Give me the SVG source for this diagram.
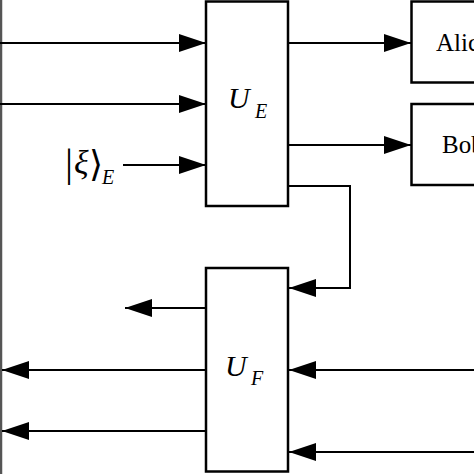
<svg xmlns="http://www.w3.org/2000/svg" width="474" height="474" viewBox="0 0 474 474">
<style>
.box{fill:#fff;stroke:#000;stroke-width:2.5}
.ln{fill:none;stroke:#000;stroke-width:2}
.t{font-family:"Liberation Serif","Times New Roman",serif;fill:#000}
.i{font-style:italic}
.big{font-size:30px}
.sub{font-size:20px}
</style>
<defs>
<marker id="ah" markerUnits="userSpaceOnUse" markerWidth="28" markerHeight="20" refX="27" refY="9" orient="auto">
<path d="M0,0 L27,9 L0,18 Z" fill="#000"/>
</marker>
</defs>
<rect width="474" height="474" fill="#fff"/>
<line x1="1" y1="0" x2="1" y2="474" stroke="#555" stroke-width="2.5"/>
<g id="connectors">
<line class="ln" x1="0" y1="43" x2="206" y2="43" marker-end="url(#ah)"/>
<line class="ln" x1="0" y1="104" x2="206" y2="104" marker-end="url(#ah)"/>
<line class="ln" x1="123" y1="165" x2="206" y2="165" marker-end="url(#ah)"/>
<line class="ln" x1="288" y1="43" x2="411" y2="43" marker-end="url(#ah)"/>
<line class="ln" x1="288" y1="145" x2="411" y2="145" marker-end="url(#ah)"/>
<polyline class="ln" points="288,186 350,186 350,288 289,288" marker-end="url(#ah)"/>
<line class="ln" x1="474" y1="370" x2="289" y2="370" marker-end="url(#ah)"/>
<line class="ln" x1="474" y1="452" x2="289" y2="452" marker-end="url(#ah)"/>
<line class="ln" x1="206" y1="308" x2="125" y2="308" marker-end="url(#ah)"/>
<line class="ln" x1="206" y1="370" x2="2" y2="370" marker-end="url(#ah)"/>
<line class="ln" x1="206" y1="431" x2="2" y2="431" marker-end="url(#ah)"/>
</g>
<g id="UE">
<rect class="box" x="206" y="1.5" width="82" height="204.5"/>
<text class="t i big" x="228" y="108">U</text>
<text class="t i sub" x="255" y="118">E</text>
</g>
<g id="UF">
<rect class="box" x="206" y="268" width="82" height="203.5"/>
<text class="t i big" x="225" y="376">U</text>
<text class="t i sub" x="251" y="385">F</text>
</g>
<g id="Alice">
<rect class="box" x="411.5" y="1.5" width="100" height="81"/>
<text class="t" x="436" y="51" style="font-size:25px">Alice</text>
</g>
<g id="Bob">
<rect class="box" x="411.5" y="104" width="100" height="81"/>
<text class="t" x="442" y="153" style="font-size:25px">Bob</text>
</g>
<g id="xi">
<text class="t" x="65" y="176" style="font-size:40px">|</text>
<text class="t i" x="74" y="174" style="font-size:34px">ξ</text>
<text class="t" x="89" y="176" style="font-family:'DejaVu Serif',serif;font-size:36px">⟩</text>
<text class="t i sub" x="102" y="184">E</text>
</g>
</svg>
